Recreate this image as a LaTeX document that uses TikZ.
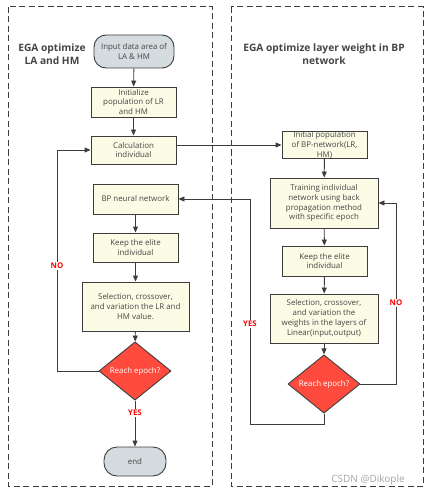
\documentclass[tikz,border=0pt]{standalone}
\usepackage{fontspec}
\setmainfont{Open Sans}
\usetikzlibrary{shapes.geometric,arrows.meta}
\definecolor{boxfill}{HTML}{FCFCE6}
\definecolor{termfill}{HTML}{D4DCDF}
\definecolor{decfill}{HTML}{FF4B3E}
\definecolor{linegray}{HTML}{3C3C3C}
\definecolor{txtgray}{HTML}{454545}
\begin{document}
\begin{tikzpicture}[x=1pt,y=-1pt]
\tikzstyle{every node}=[font=\fontsize{7.9}{9.9}\selectfont, text=txtgray]
\tikzstyle{procbox}=[draw=linegray, line width=0.9pt, fill=boxfill, align=center, inner sep=0pt]
\tikzstyle{termbox}=[draw=linegray, line width=0.9pt, fill=termfill, align=center, rounded corners=12pt, inner sep=0pt]
\tikzstyle{decbox}=[draw=linegray, line width=0.9pt, fill=decfill, diamond, inner sep=0pt, text=white, minimum width=72pt, minimum height=44pt]
\tikzstyle{flow}=[draw=linegray, line width=0.9pt, -{Triangle[length=6pt,width=5pt]}]
\tikzstyle{answer}=[text=red, font=\fontsize{7.8}{9}\selectfont\bfseries, fill=white, inner sep=1pt]
\tikzstyle{panel}=[draw=linegray, line width=1pt, dash pattern=on 6pt off 3.5pt]
\tikzstyle{title}=[font=\fontsize{10.2}{12.8}\selectfont\bfseries, text=txtgray, align=center]
	\useasboundingbox (0,0) rectangle (432,497);
	% the two panels
	\draw[panel] (8,7) rectangle (212,486);
	\draw[panel] (231,7) rectangle (423,486);
	\node[title] (titleL) at (52,54) {EGA optimize\\LA and HM};
	\node[title] (titleR) at (324,54) {EGA optimize layer weight in BP\\network};
	% left panel
	\node[termbox, minimum width=80pt, minimum height=33pt] (input) at (134,51.5) {Input data area of\\LA \& HM};
	\node[procbox, minimum width=85pt, minimum height=30pt] (init) at (133.5,102) {Initialize\\population of LR\\and HM};
	\node[procbox, minimum width=85pt, minimum height=28pt] (calc) at (133.5,150) {Calculation\\individual};
	\node[procbox, minimum width=85pt, minimum height=30pt] (bpnet) at (135.5,199) {BP neural network};
	\node[procbox, minimum width=85pt, minimum height=29pt] (keepL) at (135.5,247.5) {Keep the elite\\individual};
	\node[procbox, minimum width=107pt, minimum height=49pt] (selL) at (135.5,306.5) {Selection, crossover,\\and variation the LR and\\HM value.};
	\node[decbox] (epochL) at (135,371) {Reach epoch?};
	\node[termbox, minimum width=62pt, minimum height=29pt, rounded corners=13pt] (theend) at (135,461.5) {end};
	% right panel
	\node[procbox, minimum width=85pt, minimum height=27pt] (initR) at (324.5,145) {Initial population\\of BP-network(LR,\\HM)};
	\node[procbox, minimum width=108pt, minimum height=50pt] (train) at (324,203) {Training individual\\network using back\\propagation method\\with specific epoch};
	\node[procbox, minimum width=85pt, minimum height=30pt] (keepR) at (324.5,261) {Keep the elite\\individual};
	\node[procbox, minimum width=108pt, minimum height=49pt] (selR) at (324,318.5) {Selection, crossover,\\and variation the\\weights in the layers of\\Linear(input,output)};
	\node[decbox] (epochR) at (324,384) {Reach epoch?};
	% bends
	\coordinate (noL) at (57,371);
	\coordinate (noR) at (396,384);
	\coordinate (yesR) at (250,424);
	% connectors
	\draw[flow] (input) -- (init);
	\draw[flow] (init) -- (calc);
	\draw[flow] (calc.east |- initR.west) -- (initR.west);
	\draw[flow] (bpnet) -- (keepL);
	\draw[flow] (keepL) -- (selL);
	\draw[flow] (selL) -- (epochL);
	\draw[flow] (epochL.west) -- (noL) |- (calc.west);
	\draw[flow] (epochL) -- (theend);
	\draw[flow] (initR) -- (train);
	\draw[flow] (train) -- (keepR);
	\draw[flow] (keepR) -- (selR);
	\draw[flow] (selR) -- (epochR);
	\draw[flow] (epochR.east) -- (noR) |- (train.east);
	\draw[flow] (epochR.south) |- (yesR) |- (bpnet.east);
	% answers
	\node[answer] (noLabelL) at (57,266) {NO};
	\node[answer] (yesLabelL) at (135,413) {YES};
	\node[answer] (noLabelR) at (396,303) {NO};
	\node[answer] (yesLabelR) at (250,324) {YES};
	\node[text=gray!70, font=\fontsize{10}{12}\selectfont] (mark) at (368,480) {CSDN @Dikople};
\end{tikzpicture}
\end{document}
